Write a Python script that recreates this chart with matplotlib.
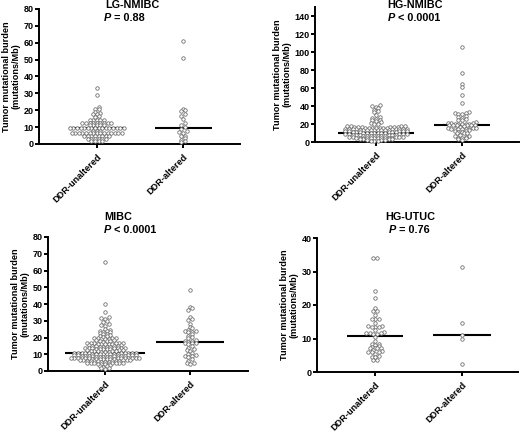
import numpy as np
import matplotlib
matplotlib.use('Agg')
import matplotlib.pyplot as plt
from matplotlib.offsetbox import TextArea, HPacker, AnnotationBbox

plt.rcParams['font.family'] = ['Liberation Sans', 'DejaVu Sans']
plt.rcParams['font.weight'] = 'bold'

groups = ['DDR-unaltered', 'DDR-altered']
titles = ['LG-NMIBC', 'HG-NMIBC', 'MIBC', 'HG-UTUC']
pvals = ['= 0.88', '< 0.0001', '< 0.0001', '= 0.76']
ylabel = 'Tumor mutational burden\n(mutations/Mb)'

# LG-NMIBC
lg_unalt = [33.4, 29.1,
            22.0, 21.0, 20.5, 19.1, 18.3, 17.8, 17.5, 16.5, 15.9,
            14.3, 14.3, 14.3, 14.3, 14.3,
            12.7, 12.7, 12.7, 12.7, 12.7, 12.7, 12.7, 12.7, 12.7,
            11.1, 11.1, 11.1, 11.1, 11.1,
            9.5, 9.5, 9.5, 9.5, 9.5, 9.5, 9.5, 9.5, 9.5, 9.5, 9.5, 9.5, 9.5, 9.5, 9.5, 9.5,
            7.9, 7.9, 7.9,
            6.3, 6.3, 6.3, 6.3, 6.3, 6.3, 6.3, 6.3, 6.3, 6.3, 6.3, 6.3, 6.3, 6.3, 6.3,
            4.7, 4.7, 4.7, 4.7, 4.7, 4.7, 4.7, 4.7,
            3.1, 3.1, 3.1, 3.1, 3.1, 3.1,
            1.5, 1.5, 1.5, 1.5]
lg_alt = [61, 51, 21, 20, 19.5, 17.5, 16.5, 15, 12.5, 11.5, 10, 9, 7.5, 7, 6.5,
          5, 4.5, 3.5, 2.5, 2, 1]

# HG-NMIBC
hg_unalt = [41, 40, 39, 38, 36, 35, 33,
            30, 28, 27, 26, 25, 24, 23, 22, 21, 20, 20,
            18, 18, 18, 18, 17, 17, 17, 17, 17, 17, 16, 16, 16, 16, 16, 16, 16, 15, 15,
            15, 14, 14, 14, 14, 14, 14, 13, 13, 13, 13, 13, 13, 13, 13, 13,
            12, 12, 12, 12, 12, 11, 11, 11, 11, 11, 11, 10, 10, 10, 10, 10, 10, 10,
            9, 9, 9, 9, 9, 8, 8, 8, 8, 8, 8, 7, 7, 7, 7, 7, 7, 7,
            6, 6, 6, 6, 6, 5, 5, 5, 5, 5, 5, 4, 4, 4, 4, 4,
            3, 3, 3, 3, 2, 2, 2, 1, 1, 1]
hg_alt = [106, 77, 65, 61, 52, 43,
          33, 32, 32, 31, 31,
          29, 28, 27, 26, 25, 24,
          22, 21, 21, 21, 20, 20, 20, 20, 20, 19, 19, 19, 19, 19, 18.5, 18,
          17, 16, 16, 16, 15, 15, 15, 14, 14, 14,
          13, 12, 12, 11, 11, 10, 10, 10,
          8, 7, 7, 6, 5, 5,
          4, 3, 2]

# MIBC
mibc_unalt = [65, 40, 35, 32, 31.5, 31, 30, 29, 28, 27.5, 27, 25, 24.5, 24, 24, 23.5,
              23, 22.5, 22, 22, 21.5, 21, 21, 20.5,
              20, 20, 19.5, 19.5, 19, 19, 19, 18.5, 18.5, 18, 18, 18,
              17.5, 17, 17, 17, 16.5, 16.5, 16.5, 16, 16, 16, 16, 16,
              15.5, 15.5, 15, 15, 15, 15, 14.5, 14.5, 14.5, 14.5, 14, 14, 14, 14,
              13.5, 13.5, 13.5, 13, 13, 13, 13, 13, 12.5, 12.5, 12.5, 12, 12, 12, 12, 12,
              11.5, 11.5, 11.5, 11, 11, 11, 11, 11, 11, 10.5, 10.5, 10.5, 10.5,
              10, 10, 10, 10, 10, 10, 10, 10,
              9.5, 9.5, 9.5, 9.5, 9.5, 9, 9, 9, 9, 9, 9, 9, 9, 8.5, 8.5, 8.5, 8.5, 8.5,
              8, 8, 8, 8, 8, 8, 8, 8,
              7.5, 7.5, 7.5, 7.5, 7.5, 7, 7, 7, 7, 7, 7, 7, 6.5, 6.5, 6.5, 6.5, 6.5,
              6, 6, 6, 6, 6, 6, 6,
              5.5, 5.5, 5.5, 5, 5, 5, 5, 4.5, 4.5, 4.5, 4, 4, 4, 4, 3.5,
              3, 3, 2.5, 2, 2, 1]
mibc_alt = [48.5, 38.5, 37.5, 36.5, 32, 31, 30.5, 28, 26, 25.5, 24.5, 24, 24, 23.5,
            23, 22, 21, 20.5, 19.5, 18.5, 18, 18, 17.5, 17, 17, 16.5, 16, 15, 14, 13,
            12.5, 12, 11, 10, 9.5, 9, 9, 8.5, 7, 6, 5, 4.5, 4]

# HG-UTUC
utuc_unalt = [34, 34, 24.3, 22, 19.2, 18.2, 18.2, 17, 15.8, 15.8, 15.8, 14.5, 13.8,
              13.6, 13.4, 13.3, 13.3, 12.5, 12, 11.6, 11.5, 11.5, 11.4, 11.3, 10.5, 9.3,
              8.5, 8.4, 8.2, 7.8, 7.5, 7.3, 7.2, 7.2, 7.1, 6.5, 6.2, 6.1, 6, 6, 5.5,
              4.8, 4.6, 4.5, 3.7, 3.6]
utuc_alt = [31.2, 14.5, 11, 10, 2.5]

data = [(lg_unalt, lg_alt), (hg_unalt, hg_alt), (mibc_unalt, mibc_alt), (utuc_unalt, utuc_alt)]
medians = [(9.3, 9.3), (10.5, 18.5), (10.8, 17.2), (10.8, 11.0)]
ymax = [80, 150, 80, 40]
ytick_step = [10, 20, 10, 10]
ytick_top = [80, 140, 80, 40]

# layout (figure pixels, top-left origin)
W, H = 520, 432
rects = [(39, 9, 240, 144), (315, 7, 519, 142), (48, 237, 248, 371), (317, 238, 518, 372)]
xlims = [(0.33, 2.66), (0.29, 2.662), (0.33, 2.68), (0.333, 2.64)]
title_pos = [((132, 5.5), (124, 18)), ((415, 5.5), (414, 18)),
             ((118, 217), (130, 230)), ((410, 217), (409, 230))]
half_w = [(0.32, 0.33), (0.44, 0.33), (0.47, 0.4), (0.32, 0.33)]


def rows(vals, sy, h, dx):
    # GraphPad-style scatter: sorted points are cut into rows of height h (px)
    # and each row is spread side by side around the group centre
    ys = np.asarray(vals, float) * sy
    order = np.argsort(ys, kind='stable')
    xs = np.zeros(len(ys))
    bands, cur, start = [], [], None
    for i in order:
        if start is None or ys[i] - start >= h:
            if cur:
                bands.append(cur)
            cur, start = [i], ys[i]
        else:
            cur.append(i)
    bands.append(cur)
    for band in bands:
        n = len(band)
        slots = (np.arange(n) - (n - 1) / 2) * dx
        slots = slots[np.argsort(np.abs(slots) + 1e-3 * slots, kind='stable')]
        xs[band] = slots
    return xs


fig = plt.figure(figsize=(W / 100, H / 100), dpi=100)

for k in range(4):
    l, t, r, b = rects[k]
    ax = fig.add_axes([l / W, 1 - b / H, (r - l) / W, (b - t) / H])
    ax.set_xlim(*xlims[k])
    ax.set_ylim(0, ymax[k])
    sx = (r - l) / (xlims[k][1] - xlims[k][0])
    sy = (b - t) / ymax[k]
    for g in range(2):
        vals = data[k][g]
        off = rows(vals, sy, 2.5, 3.6)
        ax.plot(g + 1 + off / sx, vals, 'o', ms=2.5, mfc='white', mec='0.4',
                mew=0.55, zorder=4, clip_on=False)
        hw = half_w[k][g]
        ax.hlines(medians[k][g], g + 1 - hw, g + 1 + hw, color='black', lw=1.5, zorder=3)

    for s in ['top', 'right']:
        ax.spines[s].set_visible(False)
    for s in ['left', 'bottom']:
        ax.spines[s].set_linewidth(1.4)
    ax.set_yticks(np.arange(0, ytick_top[k] + 1, ytick_step[k]))
    ax.set_xticks([1, 2])
    ax.set_xticklabels(groups, rotation=45, ha='right', va='top', rotation_mode='anchor',
                       fontsize=6.6, fontweight='bold')
    ax.tick_params(axis='y', length=3, width=1.4, pad=1, labelsize=6.5)
    ax.tick_params(axis='x', length=3, width=1.4, pad=3)
    for lab in ax.get_yticklabels():
        lab.set_fontweight('bold')
    ax.set_ylabel(ylabel, fontsize=6.6, fontweight='bold', labelpad=2, linespacing=1.1)

    (x1, y1), (x2, y2) = title_pos[k]
    fig.text(x1 / W, 1 - y1 / H, titles[k], ha='center', va='center',
             fontsize=7.8, fontweight='bold')
    a = TextArea('P', textprops=dict(fontsize=7.8, fontweight='bold', fontstyle='italic'))
    c = TextArea(' ' + pvals[k], textprops=dict(fontsize=7.8, fontweight='bold'))
    box = HPacker(children=[a, c], pad=0, sep=0, align='baseline')
    fig.add_artist(AnnotationBbox(box, (x2, H - y2), xycoords='figure pixels',
                                  frameon=False, box_alignment=(0.5, 0.5), pad=0))

fig.savefig('out.png', dpi=100)
